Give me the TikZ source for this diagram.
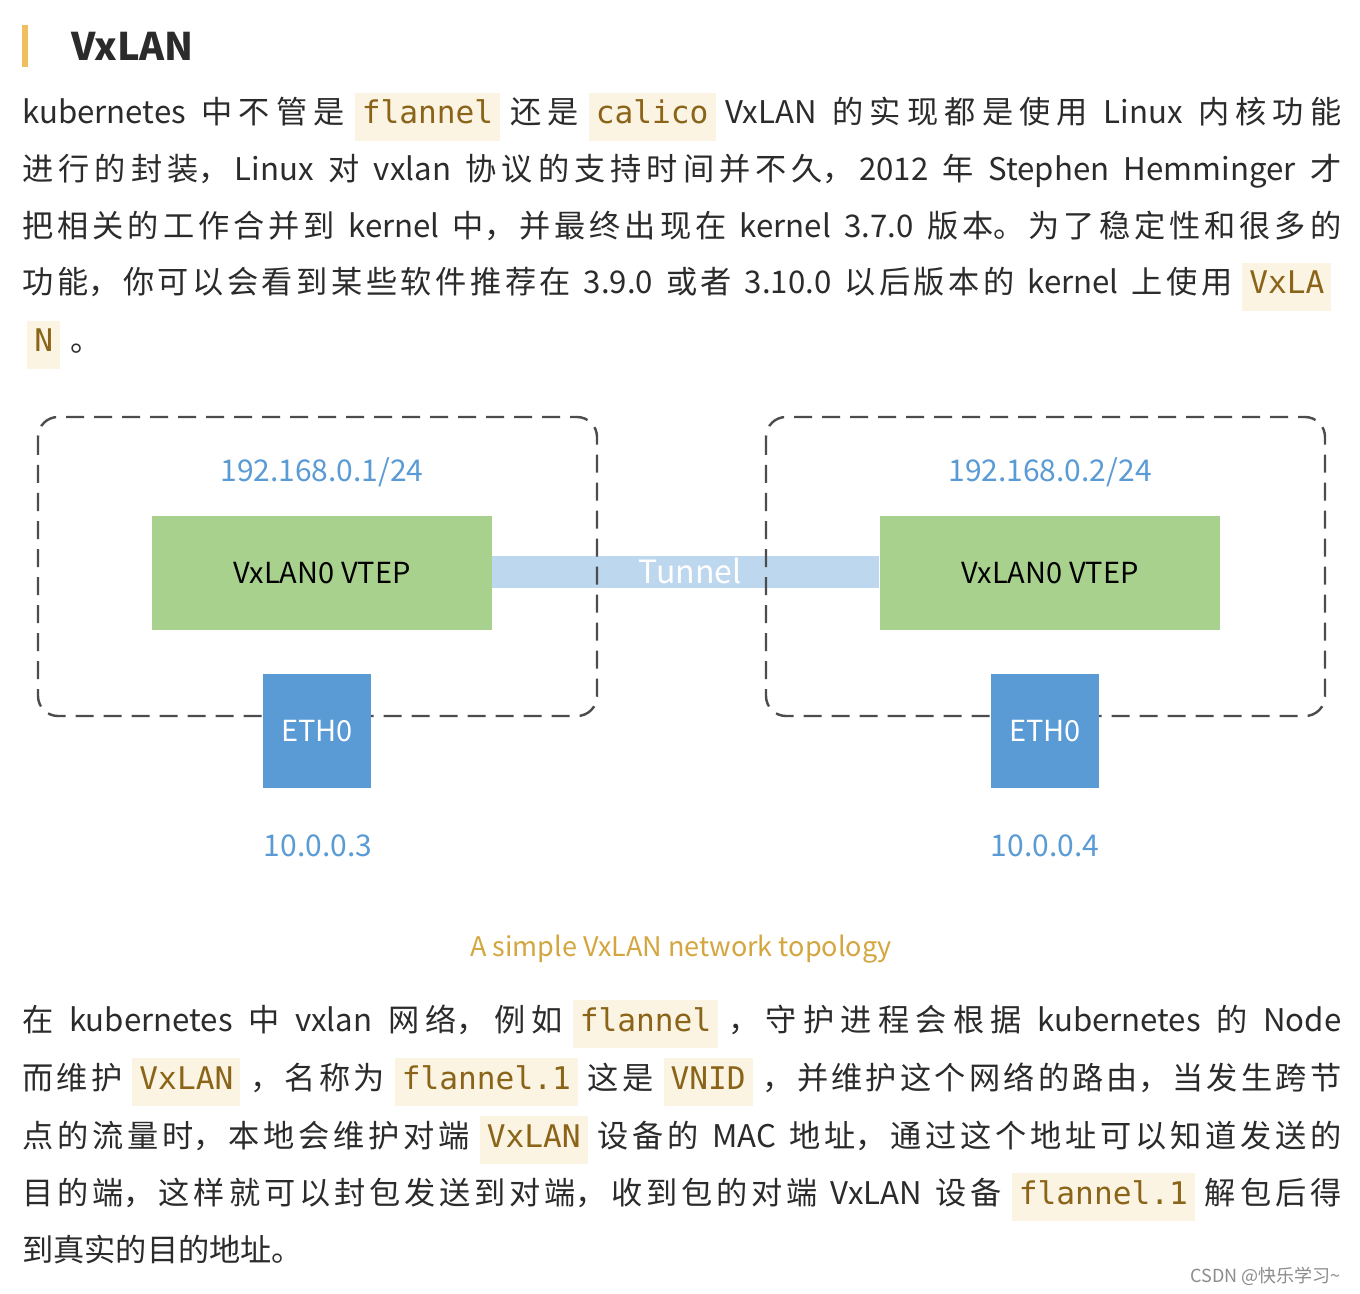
\documentclass[tikz,border=0pt]{standalone}
\usepackage{fontspec}
\setmainfont{Noto Sans CJK SC}
\setmonofont{DejaVu Sans Mono}
\XeTeXlinebreaklocale "zh"
\XeTeXlinebreakskip=0pt plus 2pt minus 0.3pt
\definecolor{codebg}{HTML}{FCF4E3}
\definecolor{codefg}{HTML}{8A6418}
\definecolor{bar}{HTML}{F0C060}
\definecolor{txt}{HTML}{2B2B2B}
\definecolor{ipblue}{HTML}{5B9BD5}
\definecolor{vgreen}{HTML}{A9D18E}
\definecolor{tun}{HTML}{BDD7EE}
\definecolor{ethblue}{HTML}{5B9BD5}
\definecolor{cap}{HTML}{D4A640}
\newcommand\code[1]{\kern5pt{\setlength\fboxsep{3.5pt}\colorbox{codebg}{\ttfamily\color{codefg}\rule[-5pt]{0pt}{17pt}#1}}\kern5pt}
\tikzset{
 line/.style={anchor=base west,inner sep=0pt,font=\fontsize{15.6}{20}\selectfont,text=txt},
 frame/.style={draw=black!70,line width=1.2pt,dash pattern=on 9pt off 5pt,rounded corners=10pt},
 vtep/.style={fill=vgreen,minimum width=170pt,minimum height=57pt,inner sep=0pt,font=\fontsize{14.5}{14}\selectfont},
 eth/.style={fill=ethblue,minimum width=54pt,minimum height=57pt,inner sep=0pt,text=white,font=\fontsize{14.5}{14}\selectfont},
 ip/.style={text=ipblue,font=\fontsize{15}{14}\selectfont},
}
\newcommand\jl[1]{\parbox[b]{659.5pt}{\spaceskip=0.3em plus 2pt minus 1pt\parfillskip=0pt\tolerance=10000\pretolerance=10000 #1}}
\begin{document}
\begin{tikzpicture}[x=0.5pt,y=-0.5pt]
\useasboundingbox[fill=white] (0,0) rectangle (1360,1294);
\fill[bar] (22,25) rectangle (28,67);
\node[anchor=west,font=\fontsize{19}{20}\selectfont\bfseries,text=txt] (h) at (64,46) {VxLAN};
\node[line] (p1) at (22,124) {\jl{kubernetes 中不管是\code{flannel}还是\code{calico}VxLAN 的实现都是使用 Linux 内核功能}};
\node[line] (p2) at (22,181) {\jl{进行的封装，Linux 对 vxlan 协议的支持时间并不久，2012 年 Stephen Hemminger 才}};
\node[line] (p3) at (22,238) {\jl{把相关的工作合并到 kernel 中，并最终出现在 kernel 3.7.0 版本。为了稳定性和很多的}};
\node[line] (p4) at (22,294) {\jl{功能，你可以会看到某些软件推荐在 3.9.0 或者 3.10.0 以后版本的 kernel 上使用\code{VxLA}}};
\node[line] (p5) at (17,352) {\code{N}。};
% diagram
\fill[tun] (492,556) rectangle (879,588);
\node[text=white,font=\fontsize{16}{16}\selectfont] (tn) at (690,571) {Tunnel};
\draw[frame] (38,417) rectangle (597,716);
\draw[frame] (766,417) rectangle (1325,716);
\node[ip] (ip1) at (322,472) {192.168.0.1/24};
\node[ip] (ip2) at (1050,472) {192.168.0.2/24};
\node[vtep] (v1) at (322,573) {VxLAN0 VTEP};
\node[vtep] (v2) at (1050,573) {VxLAN0 VTEP};
\node[eth] (e1) at (317,731) {ETH0};
\node[eth] (e2) at (1045,731) {ETH0};
\node[ip] (a1) at (318,846) {10.0.0.3};
\node[ip] (a2) at (1045,846) {10.0.0.4};
\node[text=cap,font=\fontsize{13.5}{13}\selectfont] (cap) at (681,949) {A simple VxLAN network topology};
% paragraph 2
\node[line] (q1) at (22,1031) {\jl{在 kubernetes 中 vxlan 网络，例如\code{flannel}，守护进程会根据 kubernetes 的 Node}};
\node[line] (q2) at (22,1089) {\jl{而维护\code{VxLAN}，名称为\code{flannel.1}这是\code{VNID}，并维护这个网络的路由，当发生跨节}};
\node[line] (q3) at (22,1147) {\jl{点的流量时，本地会维护对端\code{VxLAN}设备的 MAC 地址，通过这个地址可以知道发送的}};
\node[line] (q4) at (22,1204) {\jl{目的端，这样就可以封包发送到对端，收到包的对端 VxLAN 设备\code{flannel.1}解包后得}};
\node[line] (q5) at (22,1261) {到真实的目的地址。};
\node[anchor=east,text=black!45,font=\fontsize{9}{9}\selectfont] (wm) at (1348,1276) {CSDN @快乐学习\textasciitilde};
\end{tikzpicture}
\end{document}
